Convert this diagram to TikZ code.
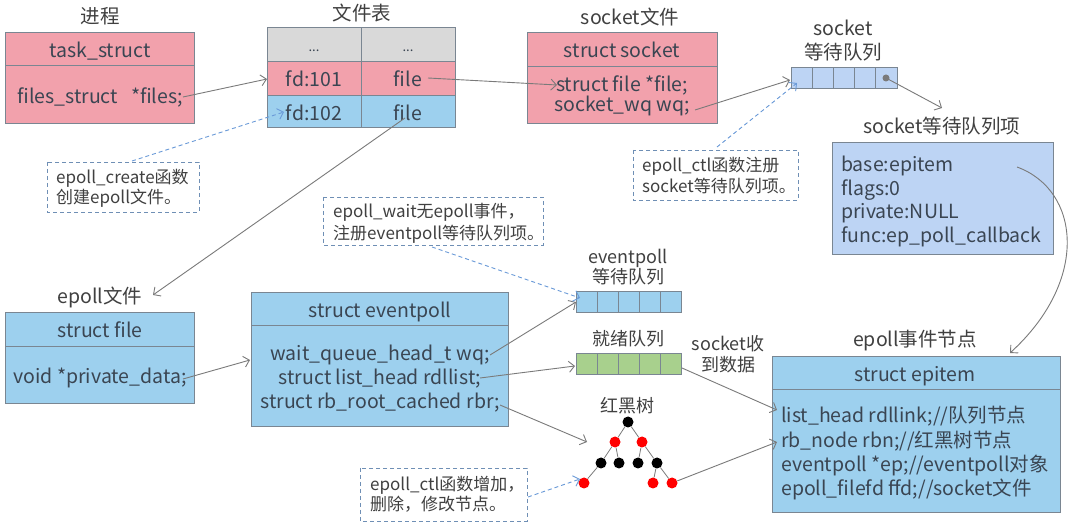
\documentclass[tikz,border=0pt]{standalone}
\usepackage{fontspec}
\setmainfont{Noto Sans CJK SC}
\usetikzlibrary{arrows.meta}
\definecolor{pinkf}{HTML}{F2A1AC}
\definecolor{bluef}{HTML}{9DD0EE}
\definecolor{lbluef}{HTML}{BDD4F4}
\definecolor{grayf}{HTML}{D9D9D9}
\definecolor{greenf}{HTML}{A8D08D}
\definecolor{bord}{HTML}{7A8692}
\definecolor{txtc}{HTML}{3A4552}
\definecolor{ttlc}{HTML}{404040}
\definecolor{arcol}{HTML}{7A7A7A}
\definecolor{darcol}{HTML}{6A9AD8}
\definecolor{notec}{HTML}{6F8FB5}
\tikzset{
 boxl/.style={draw=bord,line width=1pt},
 lbl/.style={inner sep=0pt,text=txtc,font=\fontsize{19.5}{24}\selectfont},
 ttl/.style={inner sep=0pt,text=ttlc,font=\fontsize{19.5}{24}\selectfont},
 sml/.style={inner sep=0pt,text=ttlc,font=\fontsize{18}{21}\selectfont},
 nt/.style={inner sep=0pt,text=ttlc,font=\fontsize{17}{21}\selectfont},
 notebox/.style={draw=notec,line width=0.9pt,dash pattern=on 4pt off 3pt},
 arr/.style={draw=arcol,line width=0.9pt,-{Straight Barb[length=5.5pt,width=11pt]}},
 darr/.style={draw=darcol,line width=0.9pt,dash pattern=on 4pt off 3pt,-{Straight Barb[length=5.5pt,width=11pt]}},
 rbn/.style={circle,inner sep=0pt,minimum size=11pt,fill=red},
 bbn/.style={circle,inner sep=0pt,minimum size=11pt,fill=black},
 tedge/.style={draw=arcol,line width=0.8pt}
}
\begin{document}
\begin{tikzpicture}[x=1pt,y=-1pt]
\useasboundingbox[fill=white] (0,0) rectangle (1080,526);

% ---- process
\node[ttl,anchor=base] (tProc) at (100,24) {进程};
\draw[boxl,fill=pinkf] (5,33) rectangle (194,124);
\draw[boxl] (5,66) -- (194,66);
\node[lbl,anchor=base] (tTask) at (100,58) {task\_struct};
\node[lbl,anchor=base] (tFiles) at (100,104) {files\_struct\ \ \ *files;};

% ---- file table
\node[ttl,anchor=base] (tFT) at (362,21) {文件表};
\fill[grayf] (267,28) rectangle (455,62);
\fill[pinkf] (267,62) rectangle (455,96);
\fill[bluef] (267,96) rectangle (455,128);
\draw[boxl] (267,28) rectangle (455,128);
\draw[boxl] (267,62) -- (455,62) (267,96) -- (455,96) (361,28) -- (361,128);
\node[lbl,anchor=base,font=\fontsize{13}{16}\selectfont] (d1) at (314,52) {...};
\node[lbl,anchor=base,font=\fontsize{13}{16}\selectfont] (d2) at (408,52) {...};
\node[lbl,anchor=base] (fd1) at (314,87) {fd:101};
\node[lbl,anchor=base] (fl1) at (408,87) {file};
\node[lbl,anchor=base] (fd2) at (314,121) {fd:102};
\node[lbl,anchor=base] (fl2) at (408,121) {file};

% ---- socket file
\node[ttl,anchor=base] (tSF) at (630,25) {socket文件};
\draw[boxl,fill=pinkf] (527,33) rectangle (717,124);
\draw[boxl] (527,67) -- (717,67);
\node[lbl,anchor=base] (tSock) at (622,58) {struct socket};
\node[lbl,anchor=base] (tSfile) at (622,92) {struct file *file;};
\node[lbl,anchor=base] (tSwq) at (622,112) {socket\_wq wq;};

% ---- socket wait queue
\node[ttl,anchor=base] (tSQ1) at (843,36) {socket};
\node[ttl,anchor=base] (tSQ2) at (843,60) {等待队列};
\foreach \i in {0,...,4} \draw[boxl,fill=lbluef] (791+\i*21.2,68) rectangle ++(21.2,21);
\node[circle,fill=arcol,inner sep=0pt,minimum size=7pt] (sdot) at (886,78) {};

% ---- socket wait queue item
\node[ttl,anchor=base] (tSI) at (942,134) {socket等待队列项};
\draw[boxl,fill=lbluef] (832,143) rectangle (1053,255);
\node[lbl,anchor=base west] (si1) at (841,172) {base:epitem};
\node[lbl,anchor=base west] (si2) at (841,195.5) {flags:0};
\node[lbl,anchor=base west] (si3) at (841,219) {private:NULL};
\node[lbl,anchor=base west] (si4) at (841,242.5) {func:ep\_poll\_callback};

% ---- epoll file
\node[ttl,anchor=base] (tEF) at (100,304) {epoll文件};
\draw[boxl,fill=bluef] (5,313) rectangle (194,404);
\draw[boxl] (5,347) -- (194,347);
\node[lbl,anchor=base] (tEFs) at (100,338) {struct file};
\node[lbl,anchor=base] (tEFp) at (100,384) {void *private\_data;};

% ---- eventpoll
\draw[boxl,fill=bluef] (251,293) rectangle (508,427);
\draw[boxl] (251,326) -- (508,326);
\node[lbl,anchor=base] (tEP) at (380,318) {struct eventpoll};
\node[lbl,anchor=base] (ep1) at (380,361) {wait\_queue\_head\_t wq;};
\node[lbl,anchor=base] (ep2) at (380,385) {struct list\_head rdllist;};
\node[lbl,anchor=base] (ep3) at (380,409) {struct rb\_root\_cached rbr;};

% ---- eventpoll wait queue
\node[sml,anchor=base] (tEQ1) at (628,264) {eventpoll};
\node[sml,anchor=base] (tEQ2) at (628,284) {等待队列};
\foreach \i in {0,...,4} \draw[boxl,fill=bluef] (576+\i*21,292) rectangle ++(21,21);

% ---- ready queue
\node[sml,anchor=base] (tRQ) at (628,346) {就绪队列};
\foreach \i in {0,...,4} \draw[boxl,fill=greenf] (576+\i*21,354) rectangle ++(21,21);
\node[sml,anchor=base] (tRecv1) at (728,351) {socket收};
\node[sml,anchor=base] (tRecv2) at (728,372) {到数据};

% ---- red black tree
\node[sml,anchor=base] (tRB) at (627,413) {红黑树};
\node[bbn] (n0) at (628,422) {};
\node[rbn] (n1) at (615,442) {};
\node[rbn] (n2) at (642,442) {};
\node[bbn] (n3) at (601,463) {};
\node[bbn] (n4) at (619,463) {};
\node[bbn] (n5) at (638,463) {};
\node[bbn] (n6) at (657,463) {};
\node[rbn] (n7) at (584,483) {};
\node[rbn] (n8) at (653,483) {};
\node[rbn] (n9) at (672,483) {};
\draw[tedge] (n0) -- (n1) (n0) -- (n2) (n1) -- (n3) (n1) -- (n4) (n2) -- (n5) (n2) -- (n6)
  (n3) -- (n7) (n6) -- (n8) (n6) -- (n9);

% ---- epitem
\node[ttl,anchor=base] (tEI) at (915,347) {epoll事件节点};
\draw[boxl,fill=bluef] (772,357) rectangle (1060,513);
\draw[boxl] (772,390) -- (1060,390);
\node[lbl,anchor=base] (tEIs) at (915,382) {struct epitem};
\node[lbl,anchor=base west] (ei1) at (781,423) {list\_head rdllink;//队列节点};
\node[lbl,anchor=base west] (ei2) at (781,448) {rb\_node rbn;//红黑树节点};
\node[lbl,anchor=base west] (ei3) at (781,472) {eventpoll *ep;//eventpoll对象};
\node[lbl,anchor=base west] (ei4) at (781,496) {epoll\_filefd ffd;//socket文件};

% ---- notes
\draw[notebox,fill=white] (47,162) rectangle (199,212);
\node[nt,anchor=base west] (nc1) at (56,184) {epoll\_create函数};
\node[nt,anchor=base west] (nc2) at (56,204) {创建epoll文件。};
\draw[notebox,fill=white] (633,150) rectangle (798,200);
\node[nt,anchor=base west] (nr1) at (642,172) {epoll\_ctl函数注册};
\node[nt,anchor=base west] (nr2) at (642,193) {socket等待队列项。};
\draw[notebox,fill=white] (323,197) rectangle (543,245);
\node[nt,anchor=base west] (nw1) at (333,218) {epoll\_wait无epoll事件，};
\node[nt,anchor=base west] (nw2) at (333,240) {注册eventpoll等待队列项。};
\draw[notebox,fill=white] (360,468) rectangle (527,521);
\node[nt,anchor=base west] (na1) at (370,491) {epoll\_ctl函数增加，};
\node[nt,anchor=base west] (na2) at (370,511) {删除，修改节点。};

% ---- connector end points
\coordinate (a1s) at (183,97);  \coordinate (a1e) at (267,79);
\coordinate (a2s) at (428,78);  \coordinate (a2e) at (557,85);
\coordinate (a3s) at (695,110); \coordinate (a3e) at (790,80);
\coordinate (a4e) at (942,108);
\coordinate (a5s) at (405,118); \coordinate (a5e) at (153,295);
\coordinate (a6s) at (183,379); \coordinate (a6e) at (250,360);
\coordinate (a7s) at (490,355); \coordinate (a7e) at (576,302);
\coordinate (a8s) at (480,378); \coordinate (a8e) at (575,366);
\coordinate (a9s) at (500,405); \coordinate (a9e) at (587,442);
\coordinate (a10s) at (682,368); \coordinate (a10e) at (777,410);
\coordinate (a11e) at (777,442);
\coordinate (a12s) at (1017,167); \coordinate (a12e) at (1010,353);
\coordinate (d1s) at (132,161); \coordinate (d1e) at (284,112);
\coordinate (d2s) at (717,147); \coordinate (d2e) at (797,83);
\coordinate (d3s) at (432,247); \coordinate (d3e) at (580,298);
\coordinate (d4s) at (528,497); \coordinate (d4e) at (580,479);

% ---- connectors
\draw[arr] (a1s) -- (a1e);
\draw[arr] (a2s) -- (a2e);
\draw[arr] (a3s) -- (a3e);
\draw[arr] (sdot.center) -- (a4e);
\draw[arr] (a5s) -- (a5e);
\draw[arr] (a6s) -- (a6e);
\draw[arr] (a7s) -- (a7e);
\draw[arr] (a8s) -- (a8e);
\draw[arr] (a9s) -- (a9e);
\draw[arr] (a10s) -- (a10e);
\draw[arr] (n9) -- (a11e);
\draw[arr] (a12s) .. controls (1080,190) and (1090,280) .. (a12e);
\draw[darr] (d1s) -- (d1e);
\draw[darr] (d2s) -- (d2e);
\draw[darr] (d3s) -- (d3e);
\draw[darr] (d4s) -- (d4e);
\end{tikzpicture}
\end{document}
